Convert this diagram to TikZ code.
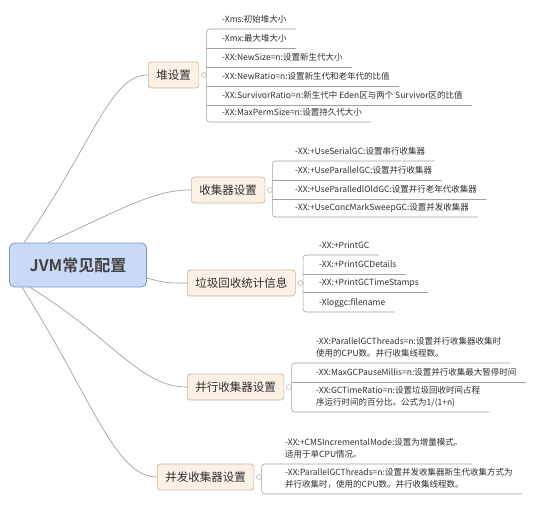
\documentclass[tikz,border=0pt]{standalone}
\usepackage{fontspec}
\setmainfont{Noto Sans CJK SC}[BoldFont={Noto Sans CJK SC Bold}]
\usetikzlibrary{positioning}
\definecolor{rootfill}{HTML}{C9DAF8}
\definecolor{rootline}{HTML}{7A96C4}
\definecolor{topicfill}{HTML}{FDF1E5}
\definecolor{topicline}{HTML}{CDB497}
\definecolor{twigline}{HTML}{A0A0A0}
\definecolor{inkgray}{HTML}{2E2E2E}
\tikzset{
  every picture/.style={line join=round, line cap=round},
  root/.style={draw=rootline, fill=rootfill, line width=0.8pt, rounded corners=5pt,
    minimum width=137pt, minimum height=44pt, font=\fontsize{16}{18}\selectfont\bfseries, text=inkgray!90},
  topic/.style={draw=topicline, fill=topicfill, line width=0.7pt, rounded corners=3pt, anchor=west,
    minimum height=26pt, inner xsep=8pt, font=\fontsize{11.5}{14}\selectfont, text=inkgray},
  knob/.style={circle, draw=twigline, fill=white, minimum size=5pt, inner sep=0pt, right=2pt of #1},
  leaf/.style={anchor=south west, inner xsep=0pt, inner ysep=3pt, text height=7pt, text depth=3pt,
    font=\fontsize{8.5}{12}\selectfont, text=inkgray, align=left},
  limb/.style={draw=twigline, line width=0.7pt},
  twig/.style={draw=twigline, line width=0.6pt, rounded corners=3pt},
}
\begin{document}
\begin{tikzpicture}[x=1pt,y=-1pt]
\useasboundingbox (0,0) rectangle (554,505);

% main topic and branches
\node[root] (jvm) at (78,265) {JVM常见配置};
\node[topic] (heap) at (148,75) {堆设置};
\node[topic] (coll) at (191,190) {收集器设置};
\node[topic] (stat) at (187,283) {垃圾回收统计信息};
\node[topic] (para) at (187,387) {并行收集器设置};
\node[topic] (conc) at (157,477) {并发收集器设置};

\draw[limb] ([xshift=15pt]jvm.north west) .. controls (95,140) and (110,75) .. (heap.west);
\draw[limb] ([xshift=39pt]jvm.north west) .. controls (130,205) and (155,190) .. (coll.west);
\draw[limb] ([yshift=-13pt]jvm.east) .. controls (165,283) .. (stat.west);
\draw[limb] ([xshift=21pt]jvm.south west) .. controls (115,340) and (140,387) .. (para.west);
\draw[limb] ([xshift=13pt]jvm.south west) .. controls (93,400) and (115,477) .. (conc.west);

\node[knob=heap] (k1) {};
\node[knob=coll] (k2) {};
\node[knob=stat] (k3) {};
\node[knob=para] (k4) {};
\node[knob=conc] (k5) {};

% heap
\foreach \y/\txt [count=\i] in {29/-Xms:初始堆大小, 48/-Xmx:最大堆大小, 67/-XX:NewSize=n:设置新生代大小,
    86/-XX:NewRatio=n:设置新生代和老年代的比值, 105/-XX:SurvivorRatio=n:新生代中 Eden区与两个 Survivor区的比值,
    122/-XX:MaxPermSize=n:设置持久代大小}
  \node[leaf] (h\i) at (222,\y) {\txt};
\draw[twig] ([xshift=9pt]h1.south east) -- (h1.south -| k1.east) -- (h6.south -| k1.east) -- ([xshift=9pt]h6.south east);
\foreach \i in {2,...,5}
  \draw[twig] (h\i.south -| k1.east) -- ([xshift=9pt]h\i.south east);

% collectors
\foreach \y/\txt [count=\i] in {161/-XX:+UseSerialGC:设置串行收集器, 180/-XX:+UseParallelGC:设置并行收集器,
    199/-XX:+UseParalledlOldGC:设置并行老年代收集器, 217/-XX:+UseConcMarkSweepGC:设置并发收集器}
  \node[leaf] (c\i) at (295,\y) {\txt};
\draw[twig] ([xshift=9pt]c1.south east) -- (c1.south -| k2.east) -- (c4.south -| k2.east) -- ([xshift=9pt]c4.south east);
\foreach \i in {2,3}
  \draw[twig] (c\i.south -| k2.east) -- ([xshift=9pt]c\i.south east);

% gc statistics
\foreach \y/\txt [count=\i] in {255/-XX:+PrintGC, 274/-XX:+PrintGCDetails, 292/-XX:+PrintGCTimeStamps, 312/-Xloggc:filename}
  \node[leaf] (s\i) at (319,\y) {\txt};
\draw[twig] ([xshift=9pt]s1.south east) -- (s1.south -| k3.east) -- (s4.south -| k3.east) -- ([xshift=9pt]s4.south east);
\foreach \i in {2,3}
  \draw[twig] (s\i.south -| k3.east) -- ([xshift=9pt]s\i.south east);

% parallel
\node[leaf] (p1) at (316,363) {-XX:ParallelGCThreads=n:设置并行收集器收集时\\使用的CPU数。并行收集线程数。};
\node[leaf] (p2) at (316,382) {-XX:MaxGCPauseMillis=n:设置并行收集最大暂停时间};
\node[leaf] (p3) at (316,412) {-XX:GCTimeRatio=n:设置垃圾回收时间占程\\序运行时间的百分比。公式为1/(1+n)};
\draw[twig] ([xshift=9pt]p1.south east) -- (p1.south -| k4.east) -- (p3.south -| k4.east) -- ([xshift=9pt]p3.south east);
\draw[twig] (p2.south -| k4.east) -- ([xshift=9pt]p2.south east);

% concurrent
\node[leaf] (r1) at (285,464) {-XX:+CMSIncrementalMode:设置为增量模式。\\适用于单CPU情况。};
\node[leaf] (r2) at (285,494) {-XX:ParallelGCThreads=n:设置并发收集器新生代收集方式为\\并行收集时，使用的CPU数。并行收集线程数。};
\draw[twig] ([xshift=9pt]r1.south east) -- (r1.south -| k5.east) -- (r2.south -| k5.east) -- ([xshift=9pt]r2.south east);
\end{tikzpicture}
\end{document}
